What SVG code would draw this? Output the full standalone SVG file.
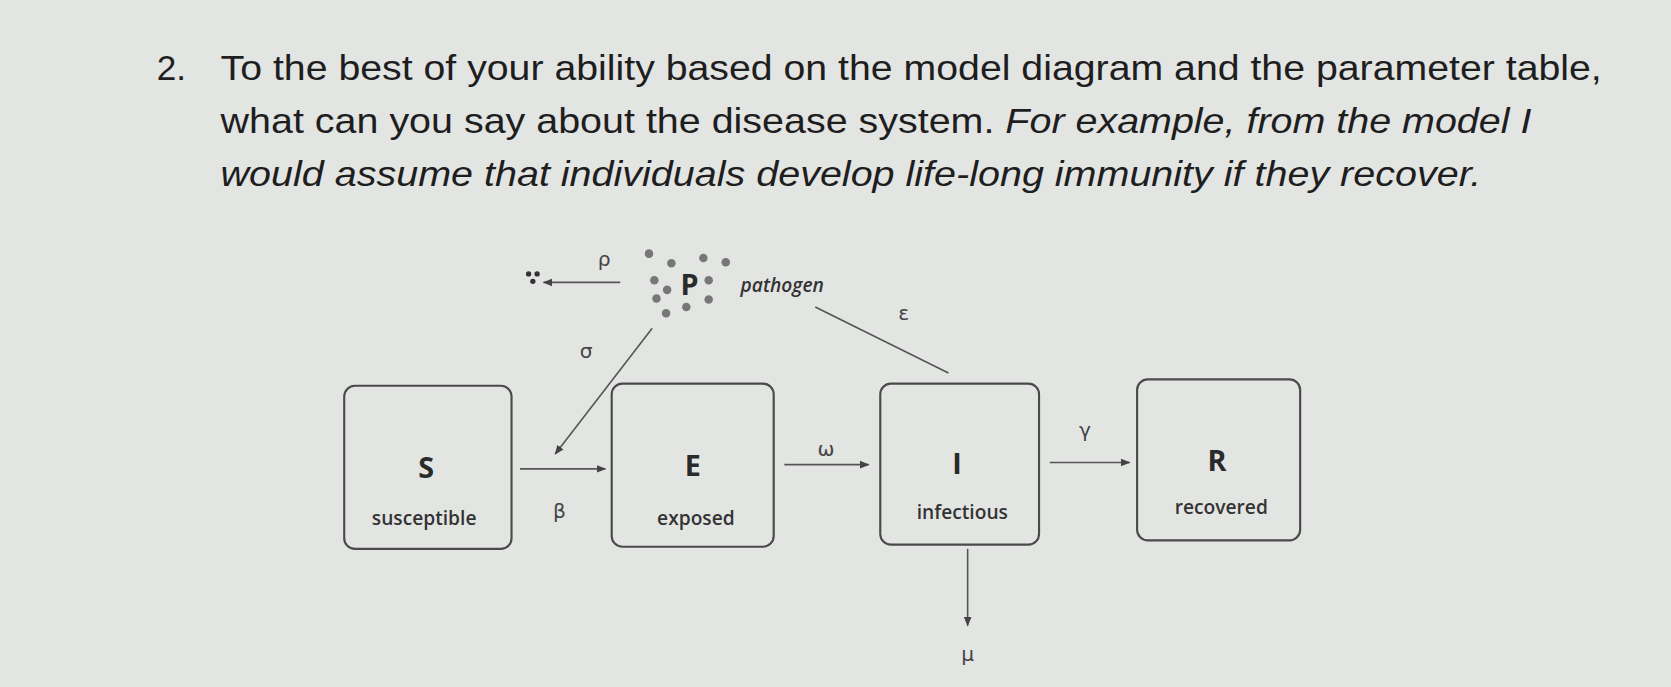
<svg xmlns="http://www.w3.org/2000/svg" width="1671" height="687" viewBox="0 0 1671 687">
<style>
.t{font-family:"Liberation Sans",Arial,sans-serif;font-size:33px;fill:#1e1e1e}
.box{fill:none;stroke:#4a4a4a;stroke-width:2}
.big{font-family:"Open Sans","DejaVu Sans",sans-serif;font-weight:bold;font-size:27px;fill:#2a2a2a;text-anchor:middle}
.lb{font-family:"Open Sans","DejaVu Sans",sans-serif;font-size:18px;font-weight:600;fill:#333;text-anchor:middle}
.gk{font-family:"DejaVu Sans",sans-serif;font-size:19px;fill:#444;text-anchor:middle}
.ln{stroke:#555;stroke-width:1.5;fill:none}
.dot{fill:#777}
</style>
<defs><marker id="a" viewBox="0 0 10 10" refX="9" refY="5" markerWidth="6" markerHeight="6" orient="auto"><path d="M0,1 L10,5 L0,9 Z" fill="#444"/></marker></defs>
<rect width="1671" height="687" fill="#e3e5e3"/>
<g transform="scale(1.0657)">
<g id="title">
<text class="t" x="147" y="75">2.</text>
<text class="t" x="207" y="75" textLength="1296" lengthAdjust="spacingAndGlyphs">To the best of your ability based on the model diagram and the parameter table,</text>
<text class="t" x="207" y="125" textLength="1230" lengthAdjust="spacingAndGlyphs">what can you say about the disease system. <tspan font-style="italic">For example, from the model I</tspan></text>
<text class="t" x="207" y="175" font-style="italic" textLength="1183" lengthAdjust="spacingAndGlyphs">would assume that individuals develop life-long immunity if they recover.</text>
</g>
<g id="connectors">
<line class="ln" x1="488" y1="440" x2="568" y2="440" marker-end="url(#a)"/>
<line class="ln" x1="736" y1="436" x2="815" y2="436" marker-end="url(#a)"/>
<line class="ln" x1="985" y1="434" x2="1060" y2="434" marker-end="url(#a)"/>
<line class="ln" x1="908" y1="515" x2="908" y2="587" marker-end="url(#a)"/>
<line class="ln" x1="582" y1="265" x2="510" y2="265" marker-end="url(#a)"/>
<line class="ln" x1="612" y1="308" x2="521" y2="426" marker-end="url(#a)"/>
<line class="ln" x1="890" y1="350" x2="765" y2="288" stroke="#888" stroke-width="1"/>
<text class="gk" x="525" y="486">β</text>
<text class="gk" x="775" y="428">ω</text>
<text class="gk" x="1018" y="410">γ</text>
<text class="gk" x="908" y="620">μ</text>
<text class="gk" x="567" y="250">ρ</text>
<text class="gk" x="550" y="336">σ</text>
<text class="gk" x="848" y="300">ε</text>
</g>
<g id="sink"><circle cx="496" cy="257" r="2.5" fill="#333"/><circle cx="504" cy="257" r="2.5" fill="#333"/><circle cx="500" cy="264" r="2.5" fill="#333"/></g>
<g id="P">
<circle class="dot" cx="609" cy="238" r="4"/><circle class="dot" cx="630" cy="247" r="4"/><circle class="dot" cx="660" cy="242" r="4"/><circle class="dot" cx="681" cy="246" r="4"/>
<circle class="dot" cx="614" cy="263" r="4"/><circle class="dot" cx="626" cy="272" r="4"/><circle class="dot" cx="665" cy="263" r="4"/>
<circle class="dot" cx="616" cy="280" r="4"/><circle class="dot" cx="644" cy="288" r="4"/><circle class="dot" cx="665" cy="281" r="4"/><circle class="dot" cx="625" cy="294" r="4"/>
<text class="big" x="647" y="277">P</text>
<text class="lb" x="734" y="274" font-style="italic">pathogen</text>
</g>
<g id="S"><rect class="box" x="323" y="362" width="157" height="153" rx="10"/><text class="big" x="400" y="449">S</text><text class="lb" x="398" y="493">susceptible</text></g>
<g id="E"><rect class="box" x="574" y="360" width="152" height="153" rx="10"/><text class="big" x="650" y="447">E</text><text class="lb" x="653" y="493">exposed</text></g>
<g id="I"><rect class="box" x="826" y="360" width="149" height="151" rx="10"/><text class="big" x="898" y="445">I</text><text class="lb" x="903" y="487">infectious</text></g>
<g id="R"><rect class="box" x="1067" y="356" width="153" height="151" rx="10"/><text class="big" x="1142" y="442">R</text><text class="lb" x="1146" y="482">recovered</text></g>
</g>
</svg>
